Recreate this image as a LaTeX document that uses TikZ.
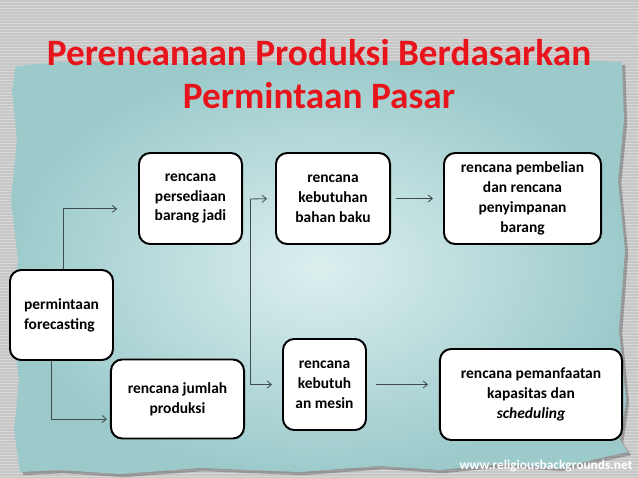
\documentclass[tikz,border=0pt]{standalone}
\usepackage{fontspec}
\setmainfont{Carlito}
\usetikzlibrary{arrows.meta}
\usetikzlibrary{positioning}
\definecolor{titlered}{HTML}{E8141B}
\definecolor{wallgray}{HTML}{C6C6C6}
\definecolor{tealdark}{HTML}{9CCACB}
\definecolor{teallight}{HTML}{DCEFEF}
\definecolor{arrowgray}{HTML}{3E4C4E}
\begin{document}
\begin{tikzpicture}[x=0.025cm,y=-0.025cm,
  every node/.style={font=\fontsize{11}{14.2}\selectfont\bfseries},
  box/.style={draw=black,line width=1.4pt,fill=white,rounded corners=0.28cm,inner sep=2pt},
  arr/.style={draw=arrowgray,line width=0.6pt,-{Straight Barb[length=3pt,width=5pt]}}]
  \useasboundingbox (0,0) rectangle (638,478);

  % wall and parchment
  \fill[wallgray] (0,0) rectangle (638,478);
  \foreach \y in {2,5,...,476} \draw[white,opacity=0.3,line width=0.4pt] (0,\y) -- (638,\y);
  \fill[black,opacity=0.25,xshift=0.08cm,yshift=-0.08cm] (16,66) -- (60,62) -- (200,63) -- (330,61) -- (470,62) -- (560,60) -- (622,62)
    -- (624,120) -- (618,180) -- (625,250) -- (619,330) -- (626,400) -- (620,440) -- (628,452)
    -- (600,458) -- (560,468) -- (500,464) -- (440,470) -- (380,466) -- (300,472) -- (200,468) -- (120,474) -- (60,470) -- (20,472)
    -- (14,430) -- (19,380) -- (12,320) -- (18,260) -- (11,200) -- (17,140) -- (12,90) -- cycle;
  \shade[inner color=teallight,outer color=tealdark] (16,66) -- (60,62) -- (200,63) -- (330,61) -- (470,62) -- (560,60) -- (622,62)
    -- (624,120) -- (618,180) -- (625,250) -- (619,330) -- (626,400) -- (620,440) -- (628,452)
    -- (600,458) -- (560,468) -- (500,464) -- (440,470) -- (380,466) -- (300,472) -- (200,468) -- (120,474) -- (60,470) -- (20,472)
    -- (14,430) -- (19,380) -- (12,320) -- (18,260) -- (11,200) -- (17,140) -- (12,90) -- cycle;

  \node (title) at (319,74)[align=center,text=titlered,font=\fontsize{26.5}{30}\selectfont\bfseries]{Perencanaan Produksi Berdasarkan\\Permintaan Pasar};

  \node (1) at (61.5,315)[box,minimum width=2.575cm,minimum height=2.25cm,align=left]{permintaan\\forecasting};
  \node (2) at (190.5,198.5)[box,minimum width=2.575cm,minimum height=2.275cm,align=center]{rencana\\persediaan\\barang jadi};
  \node (3) at (177.5,399)[box,minimum width=3.325cm,minimum height=1.975cm,align=center]{rencana jumlah\\produksi};
  \node (4) at (333,198.5)[box,minimum width=2.85cm,minimum height=2.275cm,align=center]{rencana\\kebutuhan\\bahan baku};
  \node (5) at (324.5,384.5)[box,minimum width=2.075cm,minimum height=2.275cm,align=center]{rencana\\kebutuh\\an mesin};
  \node (6) at (522.5,198.5)[box,minimum width=3.925cm,minimum height=2.275cm,align=center]{rencana pembelian\\dan rencana\\penyimpanan\\barang};
  \node (7) at (531,394.5)[box,minimum width=4.55cm,minimum height=2.275cm,align=center]{rencana pemanfaatan\\kapasitas dan\\\textit{scheduling}};

  \coordinate (s) at (250,199);

  \draw[arr,shorten >=0.52cm]([xshift=0.04cm]1.north) |- ([yshift=-0.26cm]2.west);
  \draw[arr,shorten >=0.075cm]([xshift=-0.24cm]1.south) |- ([yshift=-0.5cm]3.west);
  \draw[arr,shorten >=0.2cm](s) -- (4.west);
  \draw[arr,shorten >=0.25cm](s) |- (5.west);
  \draw[arr,shorten <=0.125cm,shorten >=0.25cm](4.east) -- (4.east -| 6.west);
  \draw[arr,shorten <=0.225cm,shorten >=0.275cm](5.east) -- (5.east -| 7.west);

  \node (web) at (546,466)[text=white,font=\fontsize{9.5}{10}\selectfont\bfseries]{www.religiousbackgrounds.net};
\end{tikzpicture}
\end{document}
